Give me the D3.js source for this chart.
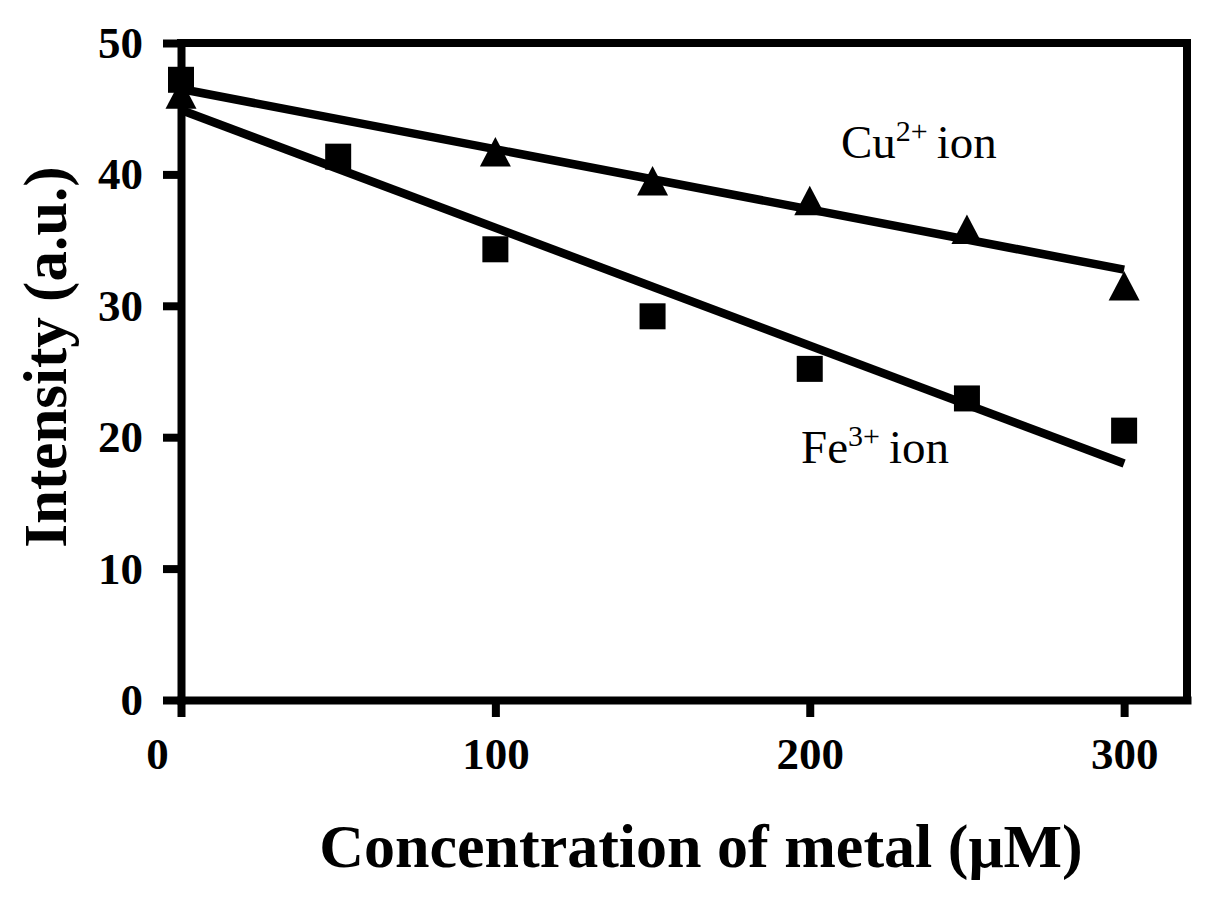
<!DOCTYPE html>
<html>
<head>
<meta charset="utf-8">
<script src="https://cdn.jsdelivr.net/npm/d3@7"></script>
<style>
  html, body { margin: 0; padding: 0; background: #fff; }
  svg { display: block; font-family: "Liberation Serif", "Times New Roman", serif; }
</style>
</head>
<body>
<div id="chart"></div>
<script>
// 読み取った値（濃度 µM と強度 a.u.）
const feX = [0, 50, 100, 150, 200, 250, 300];
const feY = [47.2, 41.35, 34.3, 29.2, 25.2, 22.95, 20.5];
const cuX = [0, 100, 150, 200, 250, 300];
const cuY = [46.1, 41.7, 39.5, 38.0, 35.8, 31.5];

// 近似直線の両端
const fitX = [0, 300];
const feFit = [44.9, 18.0];
const cuFit = [46.5, 32.75];

const xTicks = [0, 100, 200, 300];
const yTicks = [0, 10, 20, 30, 40, 50];

// 描画領域
const W = 1217, H = 904;
const margin = {top: 43, right: 30, bottom: 204, left: 181};
const width = 1187 - margin.left;
const height = 700 - margin.top;

const svg = d3.select("#chart").append("svg")
  .attr("width", W)
  .attr("height", H);
svg.append("rect").attr("width", W).attr("height", H).attr("fill", "#fff");

const g = svg.append("g")
  .attr("transform", "translate(" + margin.left + "," + margin.top + ")");

const x = d3.scaleLinear().domain([0, 320]).range([0, width]);
const y = d3.scaleLinear().domain([0, 50]).range([height, 0]);

const stroke = 8;
const tickFont = "'Liberation Serif', 'Times New Roman', serif";

// 枠（上と右）
g.append("path")
  .attr("d", "M0," + y(50) + "H" + x(320) + "V" + y(0))
  .attr("fill", "none")
  .attr("stroke", "#000")
  .attr("stroke-width", stroke)
  .attr("stroke-linecap", "square");

// x軸
const xAxis = d3.axisBottom(x)
  .tickValues(xTicks)
  .tickSize(17)
  .tickSizeOuter(0)
  .tickPadding(20)
  .tickFormat(d3.format("d"));
const gx = g.append("g")
  .attr("transform", "translate(0," + height + ")")
  .call(xAxis);
gx.select(".domain").attr("stroke-width", stroke).attr("stroke-linecap", "square");
gx.selectAll(".tick line").attr("stroke-width", stroke);
gx.selectAll(".tick text")
  .style("font-family", tickFont)
  .attr("font-size", 45)
  .attr("font-weight", "bold")
  .attr("fill", "#000")
  .attr("dx", d => d === 0 ? -24 : 0);

// y軸
const yAxis = d3.axisLeft(y)
  .tickValues(yTicks)
  .tickSize(18)
  .tickSizeOuter(0)
  .tickPadding(20)
  .tickFormat(d3.format("d"));
const gy = g.append("g").call(yAxis);
gy.select(".domain").attr("stroke-width", stroke).attr("stroke-linecap", "square");
gy.selectAll(".tick line").attr("stroke-width", stroke);
gy.selectAll(".tick text")
  .style("font-family", tickFont)
  .attr("font-size", 45)
  .attr("font-weight", "bold")
  .attr("fill", "#000");

// 近似直線
const line = d3.line().x(d => x(d[0])).y(d => y(d[1]));
[cuFit, feFit].forEach(function(fit) {
  g.append("path")
    .datum(fitX.map((v, i) => [v, fit[i]]))
    .attr("d", line)
    .attr("fill", "none")
    .attr("stroke", "#000")
    .attr("stroke-width", 8.5);
});

// Cu2+ の三角マーカー
g.append("g").selectAll("path")
  .data(cuX.map((v, i) => [v, cuY[i]]))
  .join("path")
  .attr("transform", d => "translate(" + x(d[0]) + "," + y(d[1]) + ")")
  .attr("d", "M0,-15L15.5,14.5L-15.5,14.5Z")
  .attr("fill", "#000");

// Fe3+ の四角マーカー
g.append("g").selectAll("rect")
  .data(feX.map((v, i) => [v, feY[i]]))
  .join("rect")
  .attr("x", d => x(d[0]) - 13)
  .attr("y", d => y(d[1]) - 13)
  .attr("width", 26)
  .attr("height", 26)
  .attr("fill", "#000");

// 系列ラベル（上付き文字の後に少し隙間をあける）
function ionLabel(base, sup, px, py) {
  const t = svg.append("text")
    .attr("x", px)
    .attr("y", py)
    .attr("font-size", 47)
    .attr("fill", "#000");
  t.append("tspan").text(base);
  t.append("tspan").attr("font-size", 30).attr("dy", -17).text(sup);
  t.append("tspan").attr("dy", 17).attr("dx", 9).text("ion");
}
ionLabel("Cu", "2+", 841, 158);
ionLabel("Fe", "3+", 801, 463);

// 軸タイトル
svg.append("text")
  .attr("x", 701)
  .attr("y", 867)
  .attr("text-anchor", "middle")
  .attr("font-size", 62)
  .attr("font-weight", "bold")
  .text("Concentration of metal (\u03bcM)");

svg.append("text")
  .attr("transform", "translate(66,357) rotate(-90)")
  .attr("text-anchor", "middle")
  .attr("font-size", 61)
  .attr("font-weight", "bold")
  .text("Intensity (a.u.)");
</script>
</body>
</html>
